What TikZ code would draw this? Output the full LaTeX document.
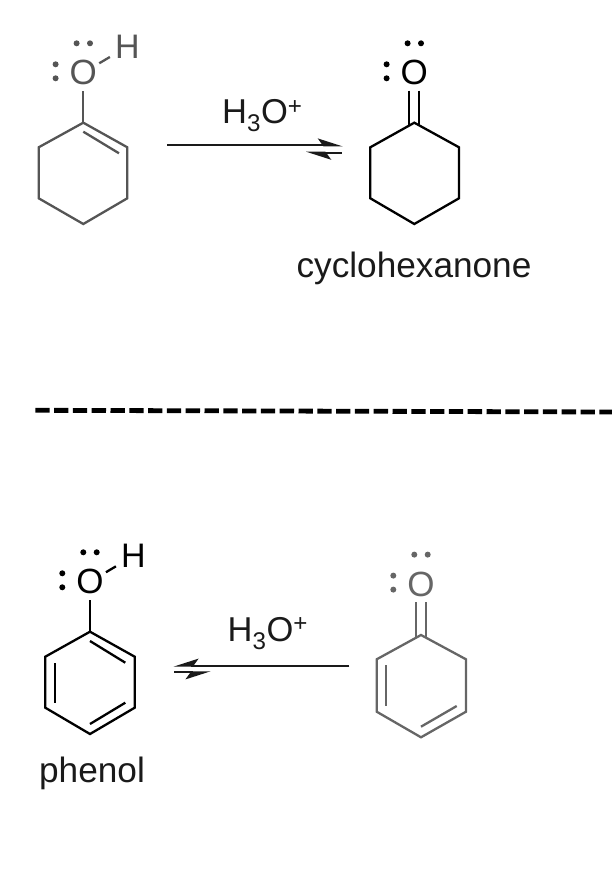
\documentclass[tikz,border=0pt]{standalone}
\usepackage{fontspec}
\setmainfont{Liberation Sans}
\usetikzlibrary{calc,arrows.meta}
\definecolor{molgrey}{HTML}{555555}
\definecolor{molpale}{HTML}{666666}
\definecolor{molink}{HTML}{1A1A1A}
\tikzset{
	bond/.style={line width=2.3pt, line join=miter},
	oxygen/.style={circle, inner sep=0pt, minimum size=36pt, font=\fontsize{35}{38}\selectfont},
	hydrogen/.style={circle, inner sep=0pt, minimum size=40pt, font=\fontsize{34}{38}\selectfont},
	caption/.style={inner sep=0pt, anchor=base, text=molink, font=\fontsize{35.2}{38}\selectfont},
	reagent/.style={inner sep=0pt, anchor=base west, text=molink, font=\fontsize{34.5}{38}\selectfont},
	forward/.style={line width=2pt, color=molink, -{Stealth[harpoon,length=22pt,width=14pt,inset=5pt]}},
	backward/.style={line width=2pt, color=molink, -{Stealth[harpoon,swap,length=22pt,width=14pt,inset=5pt]}}
}
\def\lonepairs(#1)[#2]{
	\fill[#2] ($(#1)+(-6.7,-29.4)$) circle (3);
	\fill[#2] ($(#1)+(6.7,-29.4)$) circle (3);
	\fill[#2] ($(#1)+(-27.7,-8.4)$) circle (3);
	\fill[#2] ($(#1)+(-27.7,5.6)$) circle (3);
}
\begin{document}
\begin{tikzpicture}[x=1pt, y=-1pt]
	\useasboundingbox (0, 0) rectangle (612, 890);
	%%%%% START %%%%%

	% enol
	\coordinate (ea) at (83.3, 122.7);
	\coordinate (eb) at (127.3, 147.3);
	\coordinate (ec) at (127.3, 198.3);
	\coordinate (ed) at (83.3, 224);
	\coordinate (ee) at (38.7, 198.3);
	\coordinate (ef) at (38.7, 147.3);
	\coordinate (eia) at (83.3, 131.7);
	\coordinate (eib) at (119, 153.3);
	\node[oxygen, text=molgrey] (eo) at (83.3, 72.7) {O};
	\node[hydrogen, text=molgrey] (eh) at (127.3, 46.7) {H};
	\draw[bond, color=molgrey] (ea) -- (eb) -- (ec) -- (ed) -- (ee) -- (ef) -- cycle;
	\draw[bond, color=molgrey] (eia) -- (eib);
	\draw[bond, color=molgrey] (eo) -- (ea);
	\draw[bond, color=molgrey] (eo) -- (eh);
	\lonepairs(eo)[molgrey]

	% top arrows
	\node[reagent] (topacid) at (222, 123.3) {H\textsubscript{3}O\textsuperscript{+}};
	\coordinate (tfa) at (167.3, 145.5);
	\coordinate (tfb) at (343, 145.5);
	\coordinate (tba) at (341.7, 152.7);
	\coordinate (tbb) at (306, 152.7);
	\draw[forward] (tfa) -- (tfb);
	\draw[forward] (tba) -- (tbb);

	% cyclohexanone
	\coordinate (ka) at (414.3, 122.7);
	\coordinate (kb) at (459, 147.3);
	\coordinate (kc) at (459, 198.3);
	\coordinate (kd) at (414.3, 224);
	\coordinate (ke) at (370.3, 198.3);
	\coordinate (kf) at (370.3, 147.3);
	\coordinate (kla) at (409.3, 90.7);
	\coordinate (klb) at (409.3, 125.5);
	\coordinate (kra) at (419.3, 90.7);
	\coordinate (krb) at (419.3, 125.5);
	\node[oxygen, text=black] (ko) at (414.3, 72.7) {O};
	\draw[bond] (ka) -- (kb) -- (kc) -- (kd) -- (ke) -- (kf) -- cycle;
	\draw[bond] (kla) -- (klb);
	\draw[bond] (kra) -- (krb);
	\lonepairs(ko)[black]
	\node[caption] (ketonename) at (414, 277.5) {cyclohexanone};

	% divider
	\coordinate (cuta) at (35.3, 410.3);
	\coordinate (cutb) at (612, 412);
	\draw[line width=4.8pt, color=black, dash pattern=on 14.3pt off 4.5pt] (cuta) -- (cutb);

	% phenol
	\coordinate (pa) at (90, 631.7);
	\coordinate (pb) at (134.7, 656.7);
	\coordinate (pc) at (134.7, 707.7);
	\coordinate (pd) at (90, 734);
	\coordinate (pe) at (45.3, 707.7);
	\coordinate (pf) at (45.3, 656.7);
	\coordinate (pia) at (90, 641);
	\coordinate (pib) at (125.3, 662.7);
	\coordinate (pic) at (125.3, 702.7);
	\coordinate (pid) at (90, 724);
	\coordinate (pie) at (54.7, 702.7);
	\coordinate (pif) at (54.7, 662.7);
	\node[oxygen, text=black] (po) at (90, 581.7) {O};
	\node[hydrogen, text=black] (ph) at (133.3, 556) {H};
	\draw[bond] (pa) -- (pb) -- (pc) -- (pd) -- (pe) -- (pf) -- cycle;
	\draw[bond] (pia) -- (pib);
	\draw[bond] (pic) -- (pid);
	\draw[bond] (pie) -- (pif);
	\draw[bond] (po) -- (pa);
	\draw[bond] (po) -- (ph);
	\lonepairs(po)[black]
	\node[caption] (phenolname) at (92, 782.5) {phenol};

	% bottom arrows
	\node[reagent] (lowacid) at (227.5, 641) {H\textsubscript{3}O\textsuperscript{+}};
	\coordinate (lfa) at (349.3, 665.7);
	\coordinate (lfb) at (173.3, 665.7);
	\coordinate (lba) at (174.3, 672.3);
	\coordinate (lbb) at (210.7, 672.3);
	\draw[backward] (lfa) -- (lfb);
	\draw[backward] (lba) -- (lbb);

	% dienone
	\coordinate (da) at (421, 635);
	\coordinate (db) at (466, 659.3);
	\coordinate (dc) at (466, 711.7);
	\coordinate (dd) at (421, 737.3);
	\coordinate (de) at (376.7, 711.7);
	\coordinate (df) at (376.7, 659.3);
	\coordinate (dia) at (386.3, 665);
	\coordinate (dib) at (386.3, 706);
	\coordinate (dic) at (421, 726.7);
	\coordinate (did) at (456.7, 706);
	\coordinate (dla) at (416, 602.3);
	\coordinate (dlb) at (416, 637.5);
	\coordinate (dra) at (426, 602.3);
	\coordinate (drb) at (426, 637.5);
	\node[oxygen, text=molpale] (do) at (421, 584) {O};
	\draw[bond, color=molpale] (da) -- (db) -- (dc) -- (dd) -- (de) -- (df) -- cycle;
	\draw[bond, color=molpale] (dia) -- (dib);
	\draw[bond, color=molpale] (dic) -- (did);
	\draw[bond, color=molpale] (dla) -- (dlb);
	\draw[bond, color=molpale] (dra) -- (drb);
	\lonepairs(do)[molpale]

	%%%%% END %%%%%
\end{tikzpicture}
\end{document}
